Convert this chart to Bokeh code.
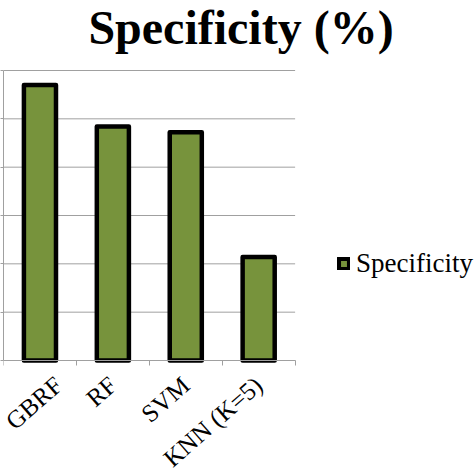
from bokeh.plotting import figure
from bokeh.models import ColumnDataSource, Range1d, FixedTicker, Legend, LegendItem, Label
from bokeh.embed import file_html
from bokeh.resources import INLINE

# values (y labels are cropped away in the original)
categories = ["GBRF", "RF", "SVM", "KNN (K=5)"]
specificity = [98.5, 94.2, 93.6, 80.7]
y_ticks = [70, 75, 80, 85, 90, 95, 100]

GRAY = "#a0a0a0"
SERIF = "Liberation Serif"

# the frame covers the whole canvas so that title, legend and rotated labels sit inside it;
# the bar area itself is 291 x 290 px, its bottom 114 px above the canvas bottom
W, H = 474, 474
BOTTOM = 114
LEFT = 4
bar_w_px, bar_h_px = 291, 290
n = len(categories)
px_x = bar_w_px / n
px_y = bar_h_px / (y_ticks[-1] - y_ticks[0])
x_end = (W - LEFT) / px_x
y_start = y_ticks[0] - BOTTOM / px_y
y_end = y_ticks[0] + (H - BOTTOM) / px_y

positions = [i + 0.5 for i in range(n)]
source = ColumnDataSource(dict(x=positions, top=specificity))

p = figure(width=W, height=H, output_backend="svg", toolbar_location=None,
           x_range=Range1d(0, x_end), y_range=Range1d(y_start, y_end),
           min_border_left=0, min_border_right=0, min_border_top=0, min_border_bottom=0)

# horizontal gridlines, only across the bar area
p.segment(x0=0, x1=n, y0=y_ticks, y1=y_ticks, line_color=GRAY, line_width=1, level="underlay")

r = p.vbar(x="x", top="top", bottom=y_ticks[0], width=0.44, source=source,
           fill_color="#77933C", line_color="black", line_width=4.5, line_join="round")

# x axis sits on the bottom of the bars; ticks between categories, labels at the centres
p.xaxis.fixed_location = y_ticks[0]
p.xaxis.bounds = (0, n)
p.xaxis.ticker = FixedTicker(ticks=positions, minor_ticks=list(range(n + 1)))
p.xaxis.major_label_overrides = {pos: cat for pos, cat in zip(positions, categories)}
p.xaxis.major_tick_out = 0
p.xaxis.major_tick_in = 0
p.xaxis.minor_tick_out = 5
p.xaxis.minor_tick_in = 0
p.xaxis.minor_tick_line_color = GRAY
p.xaxis.axis_line_color = GRAY
p.xaxis.major_label_orientation = 0.72
p.xaxis.major_label_text_font = SERIF
p.xaxis.major_label_text_font_size = "25px"
p.xaxis.major_label_text_color = "black"
p.xaxis.major_label_standoff = 16

p.yaxis.bounds = (y_ticks[0], y_ticks[-1])
p.yaxis.ticker = FixedTicker(ticks=y_ticks)
p.yaxis.major_label_overrides = {t: "" for t in y_ticks}
p.yaxis.major_label_standoff = 0
p.yaxis.major_tick_out = 3
p.yaxis.major_tick_in = 0
p.yaxis.minor_tick_line_color = None
p.yaxis.axis_line_color = GRAY
p.yaxis.major_tick_line_color = GRAY

p.xgrid.visible = False
p.ygrid.visible = False
p.outline_line_color = None

title = Label(x=(241 - LEFT) / px_x, y=y_end - 27 / px_y, text="Specificity (%)",
              text_align="center", text_baseline="alphabetic", text_color="black",
              text_font=SERIF, text_font_size="48px", text_font_style="bold")
p.add_layout(title)

legend = Legend(items=[LegendItem(label="Specificity", renderers=[r])],
                location=(334, 81 + BOTTOM),
                border_line_color=None, background_fill_alpha=0, padding=0, margin=0,
                glyph_width=13, glyph_height=13, label_standoff=6,
                label_text_font=SERIF, label_text_font_size="27px", label_text_color="black")
p.add_layout(legend)

open("out.html", "w").write(file_html(p, INLINE))
